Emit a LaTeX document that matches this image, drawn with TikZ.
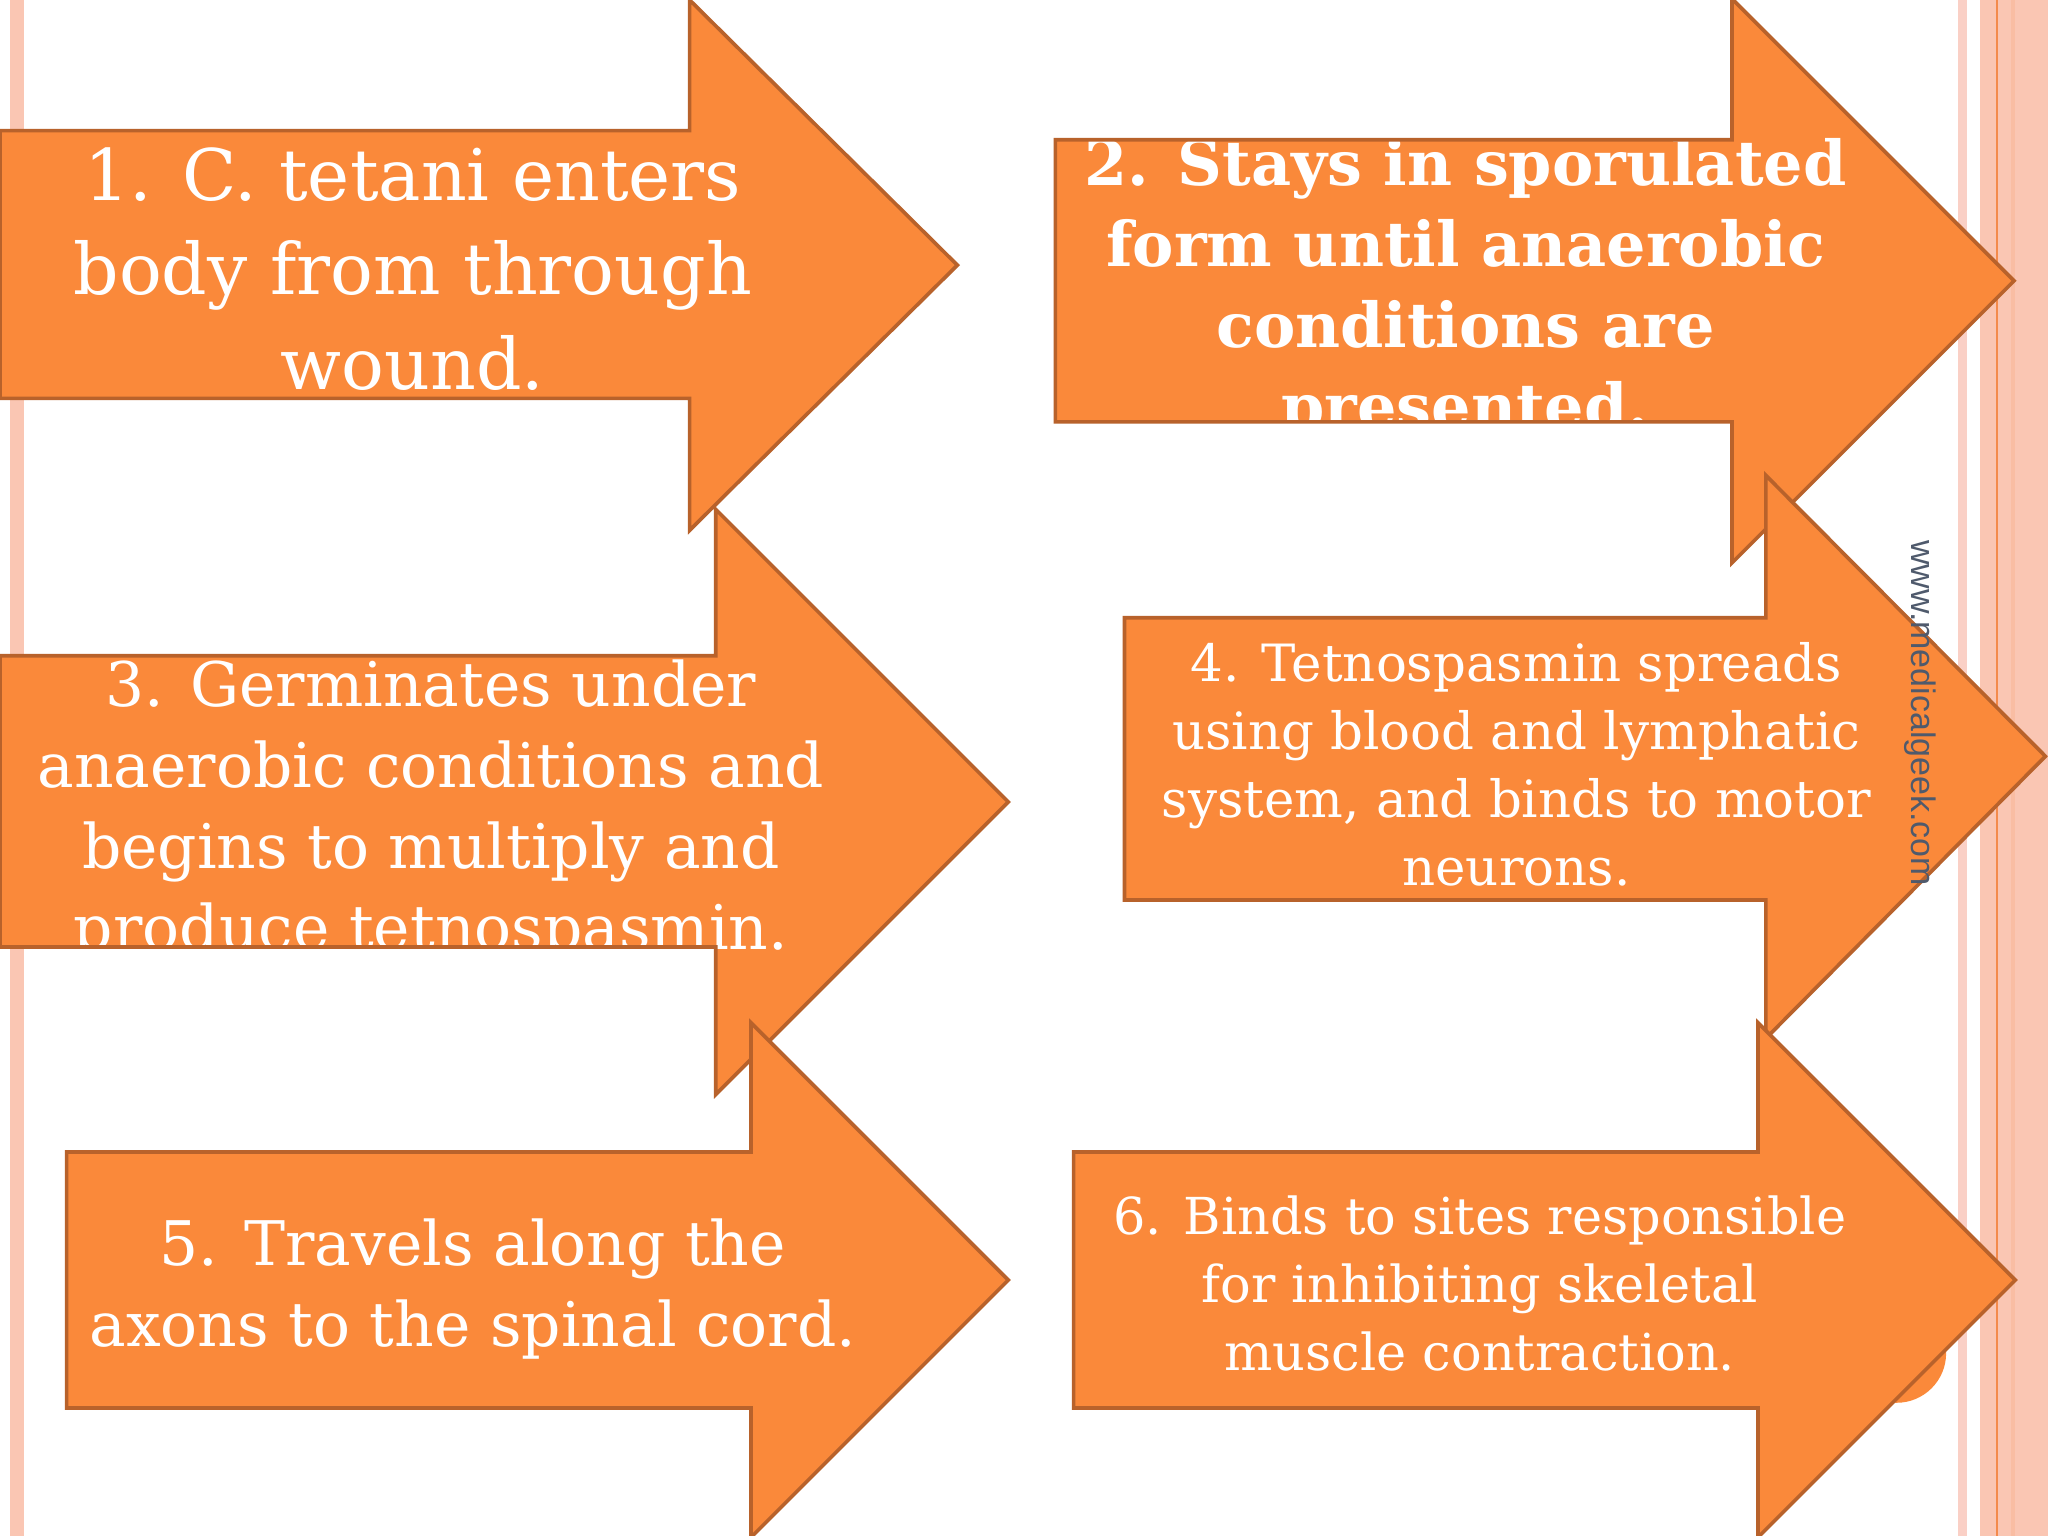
\documentclass[tikz,border=0pt]{standalone}
\usepackage{fontspec}
\setmainfont{DejaVu Serif}
\setsansfont{Liberation Sans}
\definecolor{steporange}{HTML}{FA893A}
\definecolor{stepedge}{HTML}{B8622B}
\definecolor{stripe}{HTML}{FAC6B3}
\definecolor{palestripe}{HTML}{FAD0C6}
\definecolor{stripeline}{HTML}{F48B4C}
\definecolor{sitegray}{HTML}{4F5A6C}

% shaft: left, top, bottom; head: x, top, tip x, tip y, bottom
\newcommand{\stepshape}[8]{(#1,#2) -- (#4,#2) -- (#4,#5) -- (#6,#7) -- (#4,#8) -- (#4,#3) -- (#1,#3) -- cycle}

\tikzset{
  stepfill/.style={fill=steporange},
  stepline/.style={draw=stepedge, line width=0.8pt, line join=miter},
  steptext/.style={text=white, align=center, inner sep=0pt},
}

\begin{document}
\begin{tikzpicture}[x=0.1mm, y=-0.1mm]
\clip (0,0) rectangle (1568,1176);
\fill[white] (0,0) rectangle (1568,1176);
% side stripes
\fill[stripe] (8,0) rectangle (18,1176);
\fill[palestripe] (1499,0) rectangle (1506,1176);
\fill[stripe] (1516,0) rectangle (1568,1176);
\fill[stripeline] (1528,0) rectangle (1530,1176);
\fill[stripe!85!stripeline] (1540,0) rectangle (1543,1176);
\fill[steporange] (1452,1036) circle (38);

% 1
\fill[stepfill] \stepshape{0}{100}{305}{528}{0}{733}{203}{406};
\node[steptext, font=\fontsize{15.5pt}{20.5pt}\selectfont] (t1) at (316,206)
  {1. C. tetani enters\\body from through\\wound.};
\draw[stepline] \stepshape{0}{100}{305}{528}{0}{733}{203}{406};

% 2
\fill[stepfill] \stepshape{808}{107}{323}{1326}{-1}{1542}{215}{431};
\node[steptext, font=\fontsize{13.5pt}{17.6pt}\selectfont\bfseries] (t2) at (1122,222)
  {2. Stays in sporulated\\form until anaerobic\\conditions are\\presented.};
\draw[stepline] \stepshape{808}{107}{323}{1326}{-1}{1542}{215}{431};

% 3
\fill[stepfill] \stepshape{0}{502}{725}{548}{390}{772}{614}{838};
\node[steptext, font=\fontsize{13.4pt}{17.6pt}\selectfont] (t3) at (330,621)
  {3. Germinates under\\anaerobic conditions and\\begins to multiply and\\produce tetnospasmin.};
\draw[stepline] \stepshape{0}{502}{725}{548}{390}{772}{614}{838};

% 4
\fill[stepfill] \stepshape{861}{473}{689}{1352}{364}{1566}{579}{795};
\node[steptext, font=\fontsize{11.2pt}{14.8pt}\selectfont] (t4) at (1161,585)
  {4. Tetnospasmin spreads\\using blood and lymphatic\\system, and binds to motor\\neurons.};
\draw[stepline] \stepshape{861}{473}{689}{1352}{364}{1566}{579}{795};

% 5
\fill[stepfill] \stepshape{51}{882}{1078}{575}{783}{772}{980}{1177};
\node[steptext, font=\fontsize{13.4pt}{17.6pt}\selectfont] (t5) at (362,987)
  {5. Travels along the\\axons to the spinal cord.};
\draw[stepline] \stepshape{51}{882}{1078}{575}{783}{772}{980}{1177};

% 6
\fill[stepfill] \stepshape{822}{882}{1078}{1346}{783}{1543}{980}{1177};
\node[steptext, font=\fontsize{11.1pt}{14.8pt}\selectfont] (t6) at (1133,983)
  {6. Binds to sites responsible\\for inhibiting skeletal\\muscle contraction.};
\draw[stepline] \stepshape{822}{882}{1078}{1346}{783}{1543}{980}{1177};

\node[text=sitegray, rotate=-90, inner sep=0pt, font=\sffamily\fontsize{7.4pt}{9pt}\selectfont] (site) at (1470,546) {www.medicalgeek.com};
\end{tikzpicture}
\end{document}
